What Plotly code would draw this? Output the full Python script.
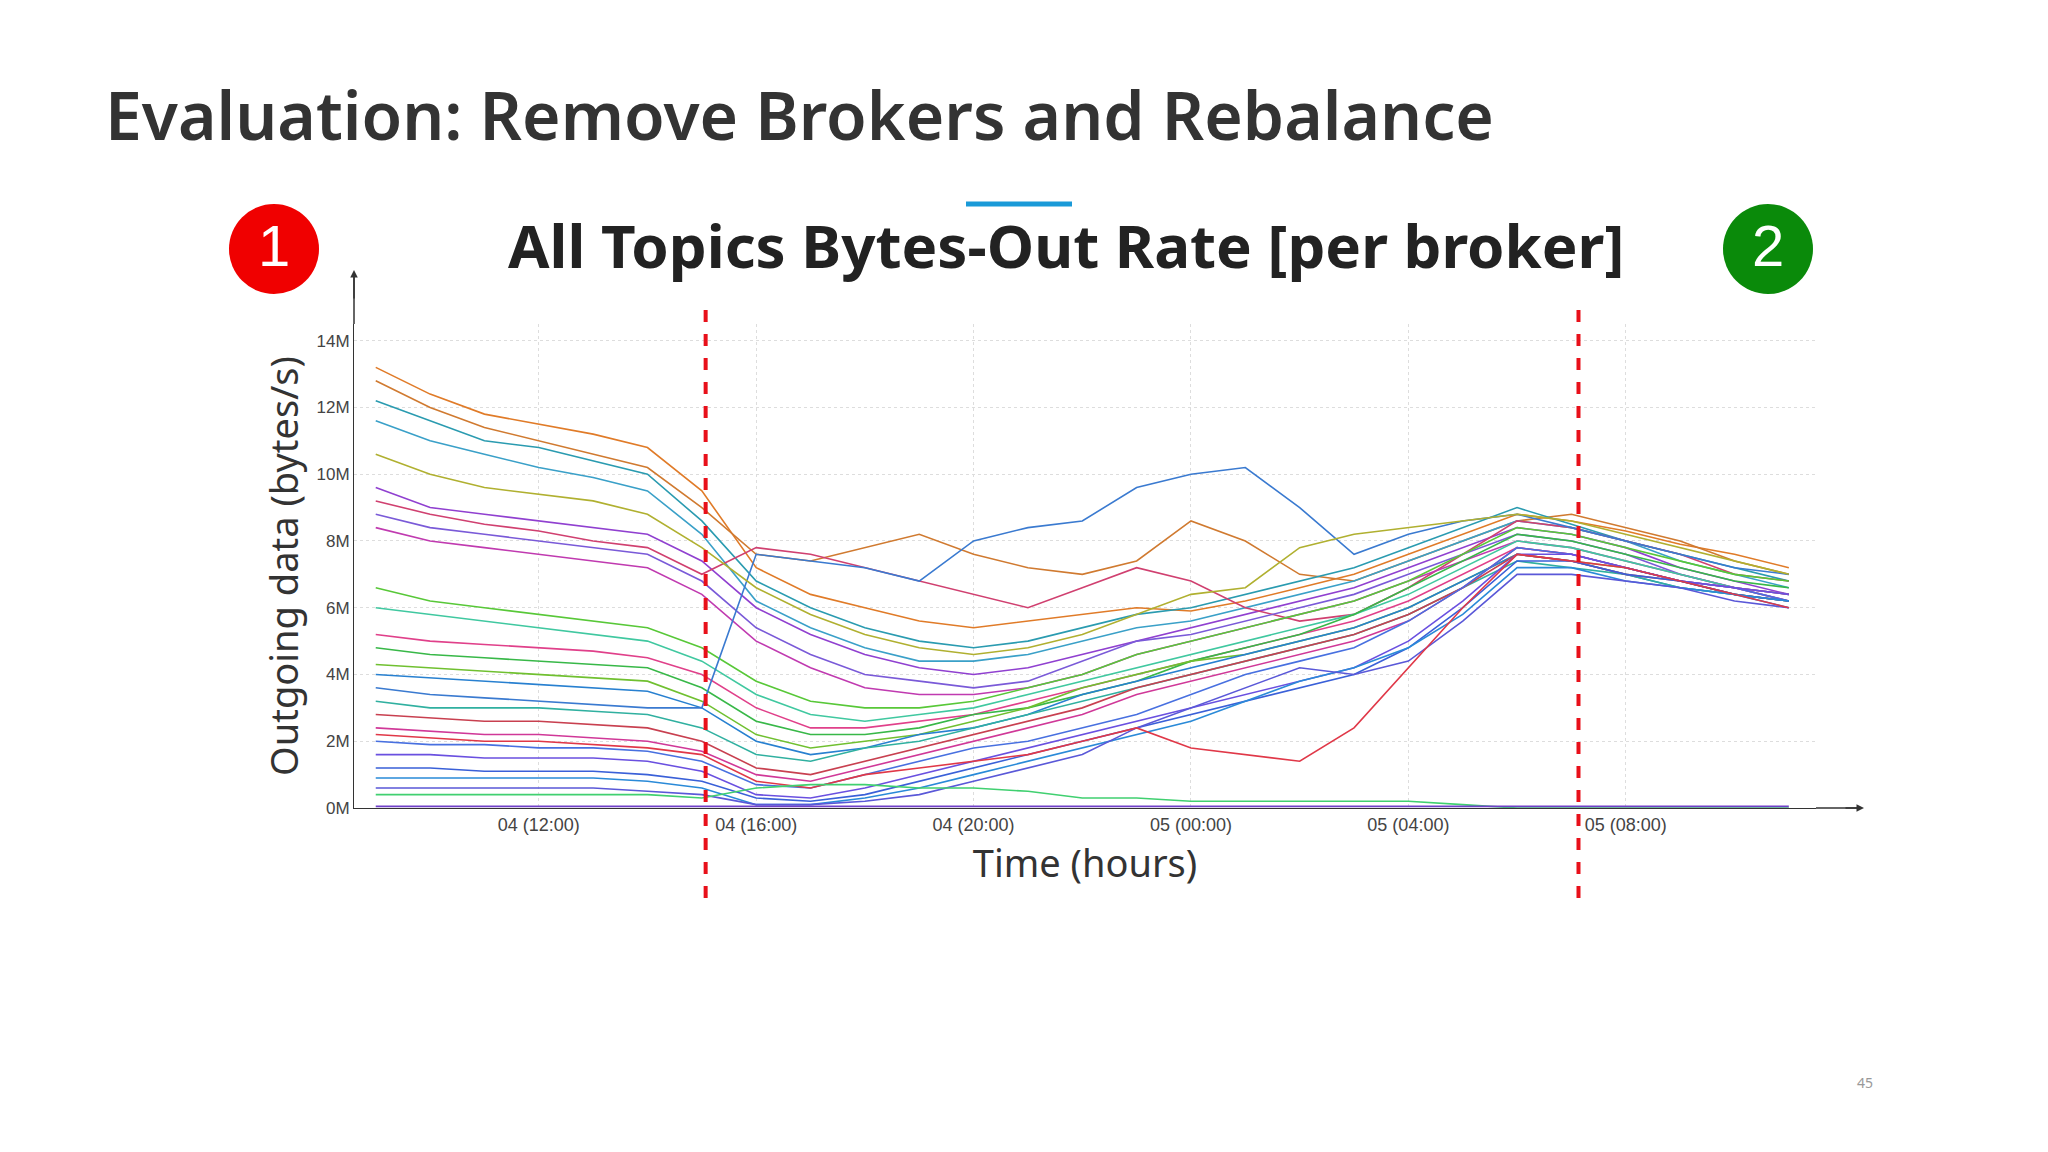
import plotly.graph_objects as go
from datetime import datetime, timedelta

hours = list(range(9, 36))  # hours since 04 00:00
series = [
 [13.2,12.4,11.8,11.5,11.2,10.8,9.5,7.2,6.4,6.0,5.6,5.4,5.6,5.8,6.0,5.9,6.2,6.6,7.0,7.6,8.2,8.8,8.6,8.3,7.9,7.6,7.2],
 [12.8,12.0,11.4,11.0,10.6,10.2,9.0,7.6,7.4,7.8,8.2,7.6,7.2,7.0,7.4,8.6,8.0,7.0,6.8,7.4,8.0,8.6,8.8,8.4,8.0,7.4,7.0],
 [12.2,11.6,11.0,10.8,10.4,10.0,8.6,6.8,6.0,5.4,5.0,4.8,5.0,5.4,5.8,6.0,6.4,6.8,7.2,7.8,8.4,9.0,8.5,8.0,7.6,7.2,6.8],
 [11.6,11.0,10.6,10.2,9.9,9.5,8.2,6.2,5.4,4.8,4.4,4.4,4.6,5.0,5.4,5.6,6.0,6.4,6.8,7.4,8.0,8.6,8.4,8.0,7.4,7.0,6.6],
 [9.6,9.0,8.8,8.6,8.4,8.2,7.4,6.0,5.2,4.6,4.2,4.0,4.2,4.6,5.0,5.4,5.8,6.2,6.6,7.2,7.8,8.4,8.2,7.8,7.2,6.8,6.4],
 [9.2,8.8,8.5,8.3,8.0,7.8,7.0,7.8,7.6,7.2,6.8,6.4,6.0,6.6,7.2,6.8,6.0,5.6,5.8,6.6,7.6,8.6,8.4,8.0,7.6,7.0,6.8],
 [8.8,8.4,8.2,8.0,7.8,7.6,6.8,5.4,4.6,4.0,3.8,3.6,3.8,4.4,5.0,5.2,5.6,6.0,6.4,7.0,7.6,8.2,8.0,7.6,7.0,6.6,6.2],
 [8.4,8.0,7.8,7.6,7.4,7.2,6.4,5.0,4.2,3.6,3.4,3.4,3.6,4.0,4.6,5.0,5.4,5.8,6.2,6.8,7.4,8.0,7.8,7.4,7.0,6.6,6.4],
 [6.6,6.2,6.0,5.8,5.6,5.4,4.8,3.8,3.2,3.0,3.0,3.2,3.6,4.0,4.6,5.0,5.4,5.8,6.2,6.8,7.6,8.4,8.2,7.8,7.4,7.0,6.8],
 [6.0,5.8,5.6,5.4,5.2,5.0,4.4,3.4,2.8,2.6,2.8,3.0,3.4,3.8,4.2,4.6,5.0,5.4,5.8,6.4,7.2,8.0,7.8,7.4,7.0,6.6,6.4],
 [5.2,5.0,4.9,4.8,4.7,4.5,4.0,3.0,2.4,2.4,2.6,2.8,3.2,3.6,4.0,4.4,4.8,5.2,5.6,6.2,7.0,7.8,7.6,7.2,6.8,6.6,6.2],
 [4.8,4.6,4.5,4.4,4.3,4.2,3.6,2.6,2.2,2.2,2.4,2.8,3.0,3.4,3.8,4.4,4.8,5.2,5.8,6.6,7.4,8.2,8.0,7.6,7.2,6.8,6.6],
 [4.3,4.2,4.1,4.0,3.9,3.8,3.2,2.2,1.8,2.0,2.2,2.6,3.0,3.6,4.0,4.4,4.6,5.0,5.4,6.0,6.8,7.6,7.4,7.2,6.8,6.4,6.2],
 [4.0,3.9,3.8,3.7,3.6,3.5,3.0,2.0,1.6,1.8,2.2,2.4,2.8,3.4,3.8,4.2,4.6,5.0,5.4,6.0,6.8,7.6,7.4,7.0,6.6,6.4,6.0],
 [3.2,3.0,3.0,3.0,2.9,2.8,2.4,1.6,1.4,1.8,2.0,2.4,2.8,3.2,3.6,4.0,4.4,4.8,5.2,5.8,6.6,7.4,7.2,7.0,6.6,6.4,6.2],
 [2.8,2.7,2.6,2.6,2.5,2.4,2.0,1.2,1.0,1.4,1.8,2.2,2.6,3.0,3.6,4.0,4.4,4.8,5.2,5.8,6.6,7.6,7.4,7.0,6.8,6.4,6.2],
 [2.4,2.3,2.2,2.2,2.1,2.0,1.7,1.0,0.8,1.2,1.6,2.0,2.4,2.8,3.4,3.8,4.2,4.6,5.0,5.6,6.6,7.8,7.6,7.2,6.8,6.6,6.4],
 [2.0,1.9,1.9,1.8,1.8,1.7,1.4,0.7,0.6,1.0,1.4,1.8,2.0,2.4,2.8,3.4,4.0,4.4,4.8,5.6,6.6,7.8,7.6,7.2,6.8,6.6,6.2],
 [1.6,1.6,1.5,1.5,1.5,1.4,1.1,0.4,0.3,0.6,1.0,1.4,1.8,2.2,2.6,3.0,3.4,3.8,4.2,5.0,6.2,7.6,7.6,7.2,6.8,6.6,6.4],
 [1.2,1.2,1.1,1.1,1.1,1.0,0.8,0.3,0.2,0.4,0.8,1.2,1.6,2.0,2.4,2.8,3.2,3.6,4.0,4.8,6.0,7.4,7.4,7.0,6.8,6.4,6.2],
 [0.9,0.9,0.9,0.9,0.9,0.8,0.6,0.1,0.1,0.3,0.6,1.0,1.4,1.8,2.2,2.6,3.2,3.8,4.2,4.8,5.8,7.2,7.2,6.8,6.6,6.4,6.2],
 [0.6,0.6,0.6,0.6,0.6,0.5,0.4,0.1,0.1,0.2,0.4,0.8,1.2,1.6,2.4,3.0,3.6,4.2,4.0,4.4,5.6,7.0,7.0,6.8,6.6,6.2,6.0],
 [3.6,3.4,3.3,3.2,3.1,3.0,3.0,7.6,7.4,7.2,6.8,8.0,8.4,8.6,9.6,10.0,10.2,9.0,7.6,8.2,8.6,8.8,8.4,8.0,7.6,7.2,7.0],
 [2.2,2.1,2.0,2.0,1.9,1.8,1.6,0.8,0.6,1.0,1.2,1.4,1.6,2.0,2.4,1.8,1.6,1.4,2.4,4.2,6.0,7.6,7.4,7.2,6.8,6.4,6.0],
 [0.4,0.4,0.4,0.4,0.4,0.4,0.3,0.6,0.7,0.7,0.6,0.6,0.5,0.3,0.3,0.2,0.2,0.2,0.2,0.2,0.1,0.0,0.0,0.0,0.0,0.0,0.0],
 [0.05,0.05,0.05,0.05,0.05,0.05,0.05,0.05,0.05,0.05,0.05,0.05,0.05,0.05,0.05,0.05,0.05,0.05,0.05,0.05,0.05,0.05,0.05,0.05,0.05,0.05,0.05],
 [10.6,10.0,9.6,9.4,9.2,8.8,7.8,6.6,5.8,5.2,4.8,4.6,4.8,5.2,5.8,6.4,6.6,7.8,8.2,8.4,8.6,8.8,8.6,8.2,7.8,7.4,7.0],
]
colors = ["#e07b28","#d07a30","#2a9bb0","#3aa0c8","#9040d0","#d04070","#7a5ad8","#c03ab0",
          "#58c838","#40c8a0","#e0408a","#38b848","#70c030","#2880d0","#30b0a0","#c84050",
          "#d03898","#4870e0","#6a50e0","#3a60d8","#2a8ad8","#5a58d8","#3a7ad0","#e03848",
          "#40d070","#7040c8","#b0b030"]
tick_labels = ["04 (12:00)","04 (16:00)","04 (20:00)","05 (00:00)","05 (04:00)","05 (08:00)"]
tick_hours = [12,16,20,24,28,32]
ytick_vals = [0,2,4,6,8,10,12,14]
ytick_text = ["0M","2M","4M","6M","8M","10M","12M","14M"]
event_hours = [15.07, 31.13]

base = datetime(2024,1,4)
T = lambda h: base + timedelta(hours=h)
xmin, xmax = 8.6, 35.5

W, H = 2048, 1152
L, R, TOP, B = 346, 240, 316, 352
PW, PH = W - L - R, H - TOP - B
px = lambda x: (x - L) / PW
py = lambda y: (H - B - y) / PH

fig = go.Figure()
for s, c in zip(series, colors):
    fig.add_trace(go.Scatter(x=[T(h) for h in hours], y=s, mode="lines",
                             line=dict(color=c, width=1.6), showlegend=False))

fig.update_layout(
    width=W, height=H, paper_bgcolor="white", plot_bgcolor="white",
    margin=dict(l=L, r=R, t=TOP, b=B),
    font=dict(family="Noto Sans", color="#333"),
    xaxis=dict(range=[T(xmin), T(xmax)], tickvals=[T(h) for h in tick_hours], ticktext=tick_labels,
               showgrid=True, gridcolor="#ddd", griddash="dot", tickfont=dict(size=18, color="#444", family="Liberation Sans"),
               showline=True, linecolor="#333", zeroline=False,
               title=dict(text="Time (hours)", font=dict(size=38, color="#333"), standoff=16)),
    yaxis=dict(range=[0,14.5], tickvals=ytick_vals, ticktext=ytick_text, showgrid=True, gridcolor="#ddd",
               griddash="dot", tickfont=dict(size=17, color="#444", family="Liberation Sans"),
               showline=True, linecolor="#333", zeroline=False,
               title=dict(text="Outgoing data (bytes/s)", font=dict(size=38, color="#333"), standoff=6)),
)
for h in event_hours:
    xp = (h - xmin) / (xmax - xmin)
    fig.add_shape(type="line", xref="paper", yref="paper", x0=xp, x1=xp, y0=py(890), y1=py(301),
                  line=dict(color="#e8101a", width=4, dash="dash"))
fig.add_annotation(xref="paper", yref="paper", x=0, y=py(262), ax=0, ay=30,
                   showarrow=True, arrowhead=2, arrowwidth=1.5, arrowcolor="#333", text="")
fig.add_shape(type="line", xref="paper", yref="paper", x0=0, x1=0, y0=1, y1=py(264), line=dict(color="#333", width=1.5))
fig.add_shape(type="line", xref="paper", yref="paper", x0=1, x1=px(1852), y0=0, y1=0, line=dict(color="#333", width=1.5))
fig.add_annotation(xref="paper", yref="paper", x=px(1856), y=0, ax=-20, ay=0, showarrow=True, arrowhead=2,
                   arrowwidth=1.5, arrowcolor="#333", text="")
fig.add_annotation(xref="paper", yref="paper", x=px(95), y=py(106), xanchor="left", yanchor="middle",
                   text="Evaluation: Remove Brokers and Rebalance", showarrow=False,
                   font=dict(size=66, color="#333", family="Noto Sans", weight=600))
fig.add_annotation(xref="paper", yref="paper", x=px(1058), y=py(237), xanchor="center", yanchor="middle",
                   text="<b>All Topics Bytes-Out Rate [per broker]</b>", showarrow=False,
                   font=dict(size=60, color="#222", family="Noto Sans"))
fig.add_shape(type="line", xref="paper", yref="paper", x0=px(958), x1=px(1064), y0=py(196), y1=py(196),
              line=dict(color="#1a9ad8", width=5))
for cx, col, lab in [(266, "#f00000", "1"), (1760, "#0a8a0a", "2")]:
    r = 45
    fig.add_shape(type="circle", xref="paper", yref="paper", x0=px(cx-r), x1=px(cx+r),
                  y0=py(241+r), y1=py(241-r), fillcolor=col, line=dict(width=0), layer="below")
    fig.add_annotation(xref="paper", yref="paper", x=px(cx), y=py(241), xanchor="center", yanchor="middle",
                       text=lab, showarrow=False, yshift=4,
                       font=dict(size=58, color="white", family="Liberation Sans"))
fig.add_annotation(xref="paper", yref="paper", x=px(1867), y=py(1086), text="45", showarrow=False,
                   font=dict(size=14, color="#999"))
fig.write_html("out.html")
